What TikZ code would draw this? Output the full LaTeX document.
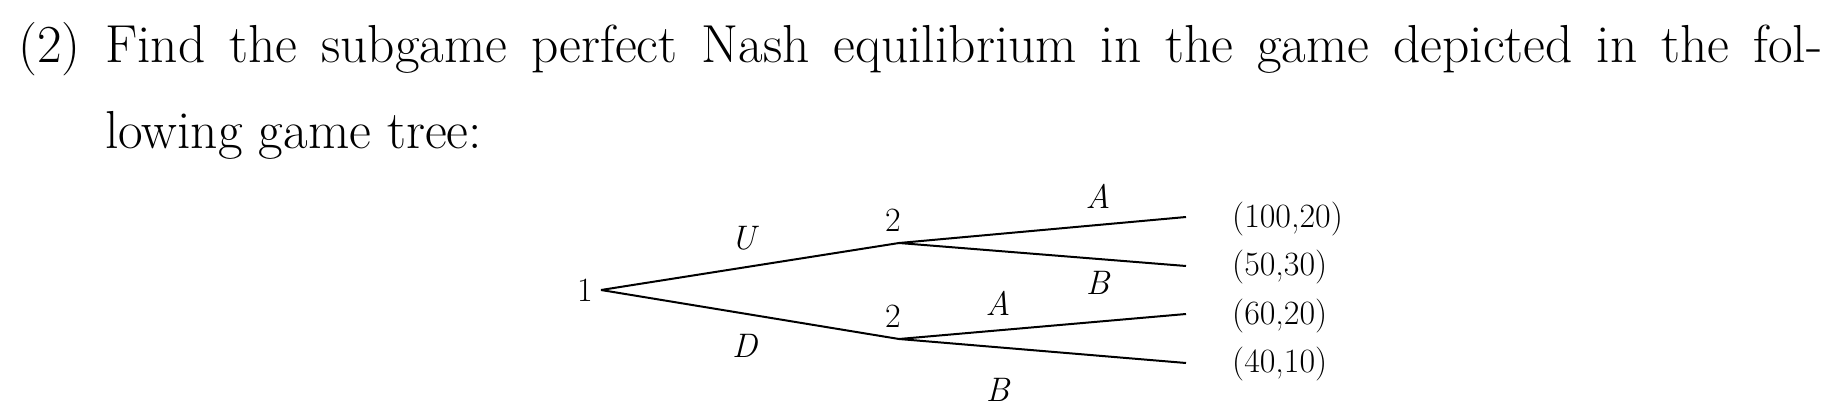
\documentclass[tikz,border=0pt]{standalone}
\begin{document}
\begin{tikzpicture}[x=1pt,y=-1pt,
  lbl/.style={font=\fontsize{34}{40}\selectfont, inner sep=0pt},
  br/.style={line width=2pt}]
\useasboundingbox (0,0) rectangle (1844,412);
\node[anchor=base west, inner sep=0pt, font=\fontsize{53.5}{64}\selectfont] (l0) at (18,63) {(2)};
\node[anchor=base west, inner sep=0pt, font=\fontsize{53.5}{64}\selectfont] (l1) at (105,63) {\hbox to 1717pt{Find the subgame perfect Nash equilibrium in the game depicted in the fol-}};
\node[anchor=base west, inner sep=0pt, font=\fontsize{53.5}{64}\selectfont] (l2) at (105,148) {lowing game tree:};
\coordinate (r) at (601,290);
\coordinate (u) at (899,243);
\coordinate (d) at (899,339);
\coordinate (e1) at (1186,217);
\coordinate (e2) at (1186,266);
\coordinate (e3) at (1186,314);
\coordinate (e4) at (1186,363);
\draw[br] (r) -- (u); \draw[br] (r) -- (d);
\draw[br] (u) -- (e1); \draw[br] (u) -- (e2);
\draw[br] (d) -- (e3); \draw[br] (d) -- (e4);
\node[lbl] (n1) at (585,290) {1};
\node[lbl] (n2a) at (893,220) {2};
\node[lbl] (n2b) at (893,316) {2};
\node[lbl] (U) at (745,238) {\textit{U}};
\node[lbl] (D) at (745,346) {\textit{D}};
\node[lbl] (A1) at (1098,196) {\textit{A}};
\node[lbl] (B1) at (1098,283) {\textit{B}};
\node[lbl] (A2) at (998,303) {\textit{A}};
\node[lbl] (B2) at (998,390) {\textit{B}};
\node[lbl, anchor=west] (p1) at (1232,219) {(100,20)};
\node[lbl, anchor=west] (p2) at (1232,267) {(50,30)};
\node[lbl, anchor=west] (p3) at (1232,316) {(60,20)};
\node[lbl, anchor=west] (p4) at (1232,364) {(40,10)};
\end{tikzpicture}
\end{document}
